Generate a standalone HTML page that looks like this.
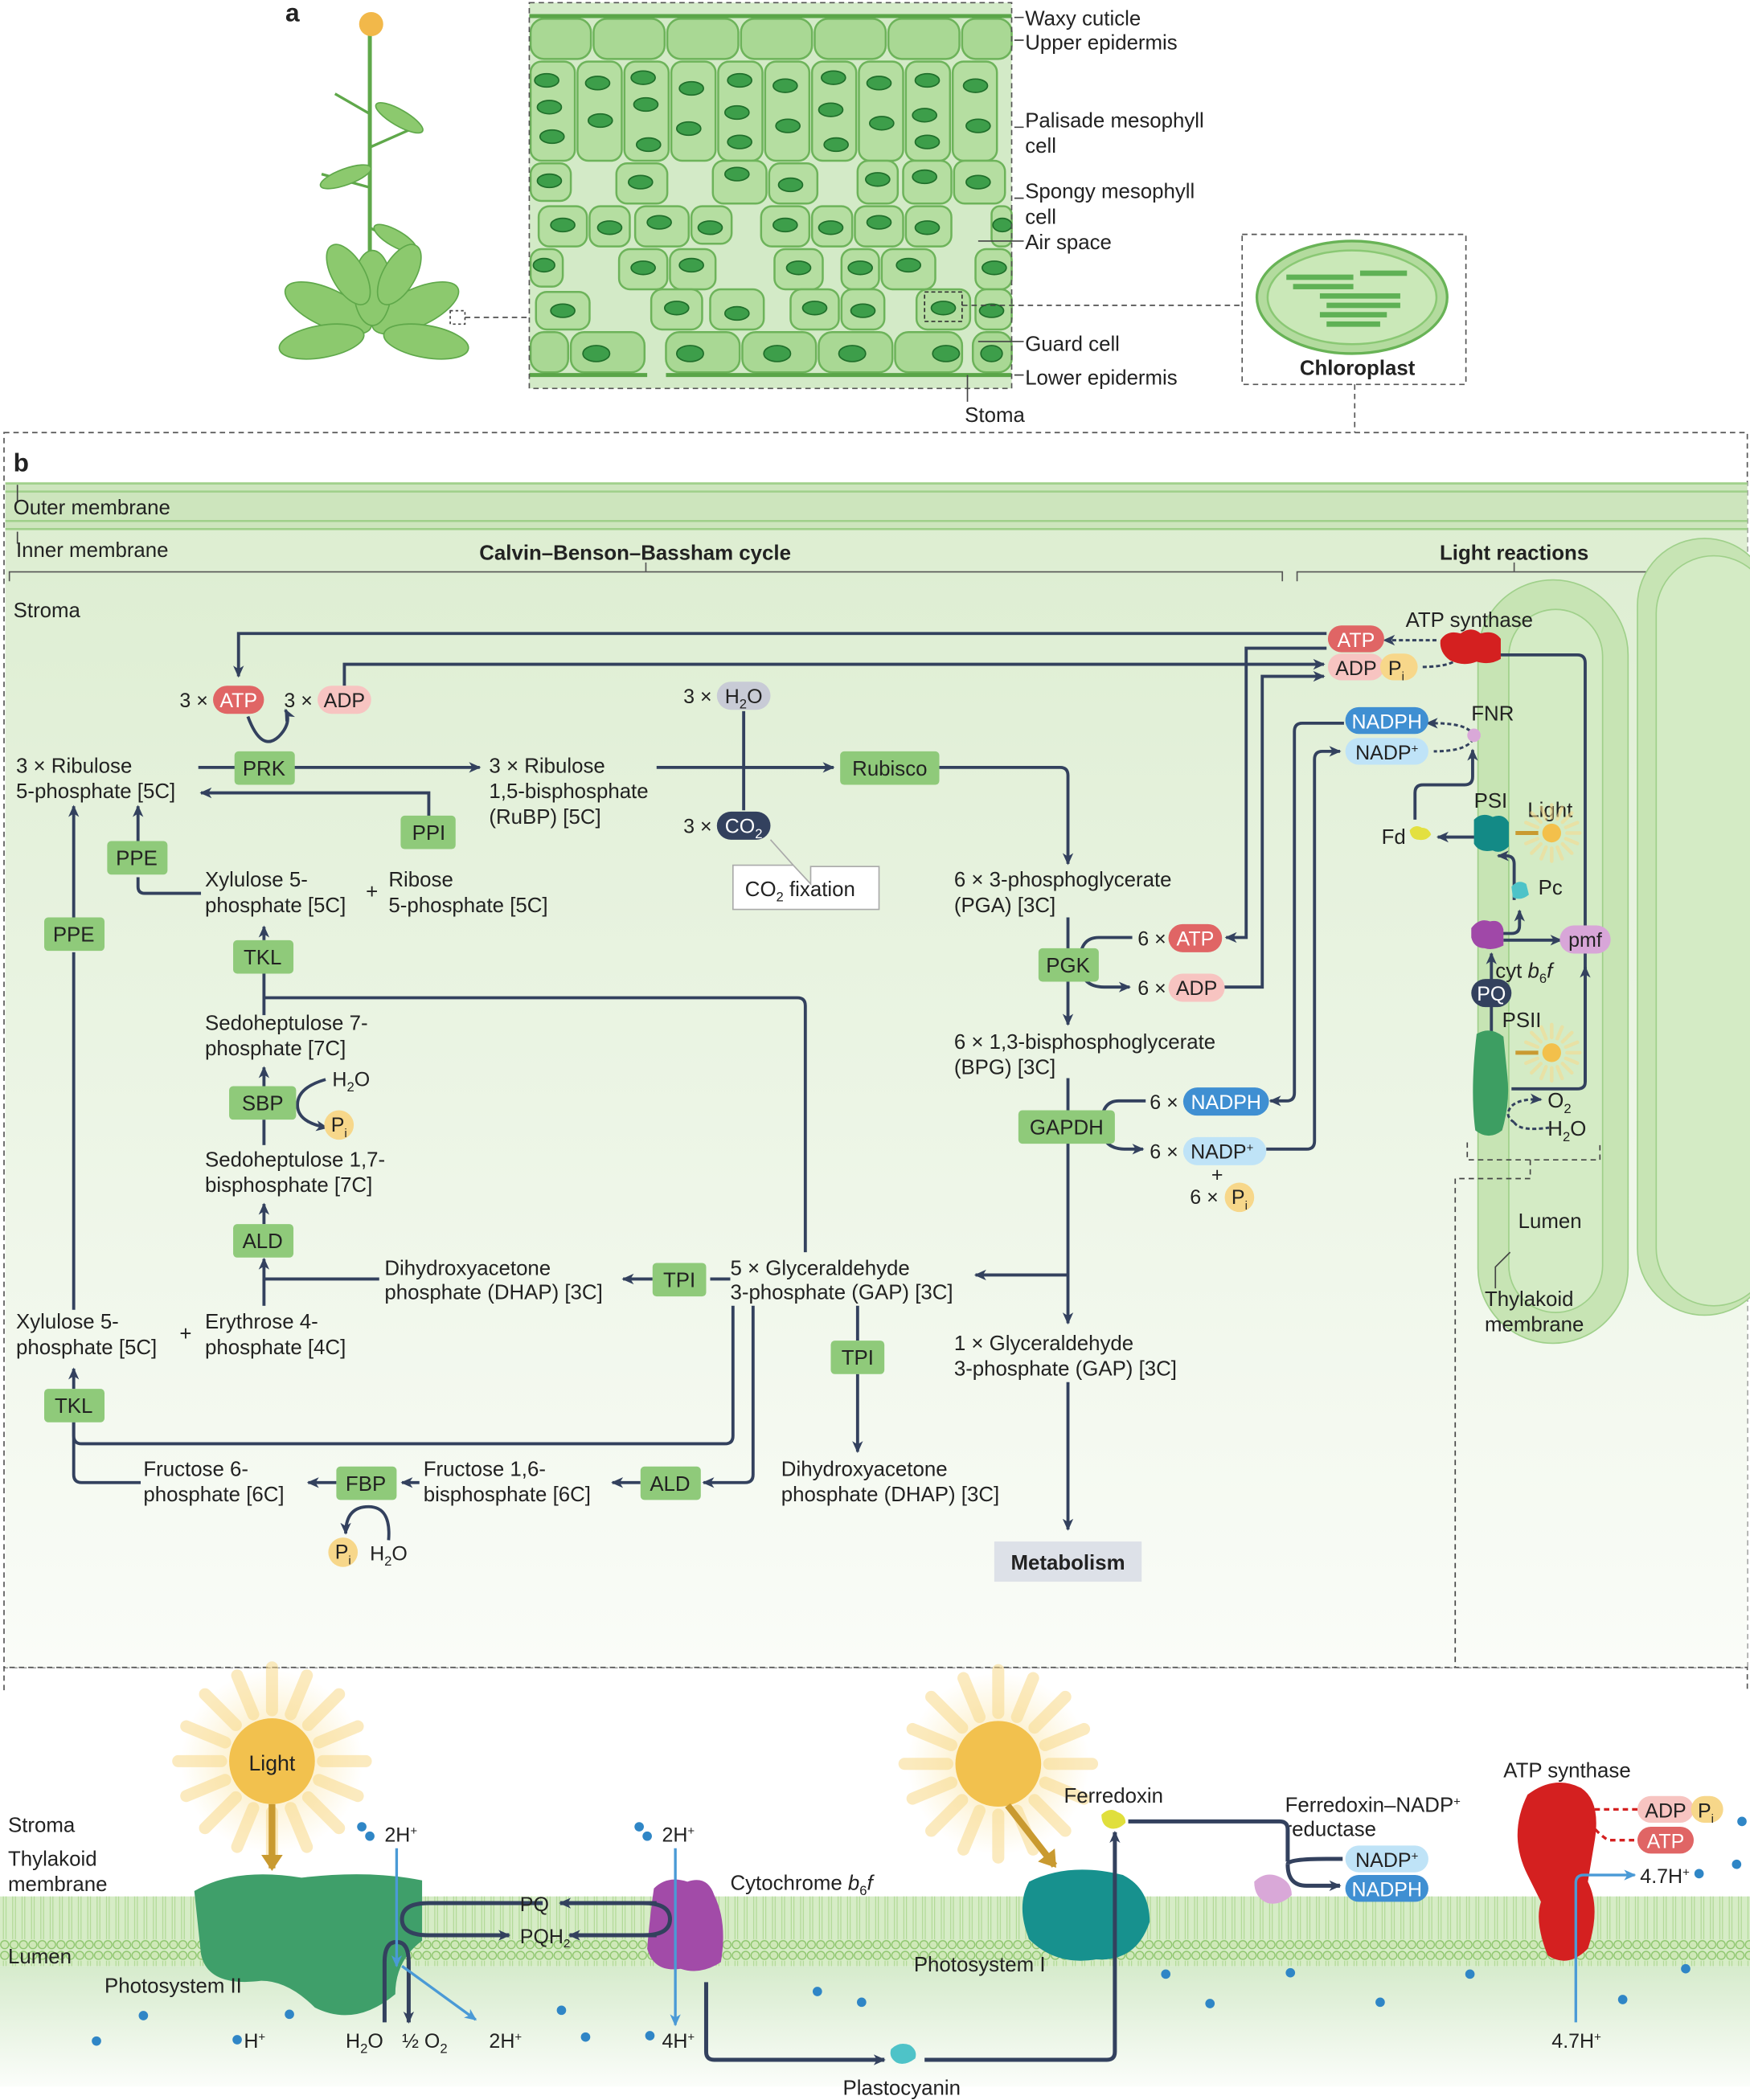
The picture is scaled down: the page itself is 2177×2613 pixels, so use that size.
<!DOCTYPE html>
<html><head><meta charset="utf-8"><style>
html,body{margin:0;padding:0;background:#fff}
svg{display:block}
text{font-family:"Liberation Sans",sans-serif}
</style></head><body>
<svg width="2177" height="2613" viewBox="0 0 1306 1568" preserveAspectRatio="none" xmlns="http://www.w3.org/2000/svg" fill="#222">
<defs>
<marker id="a" markerWidth="10" markerHeight="10" refX="8" refY="5" orient="auto" markerUnits="userSpaceOnUse"><path d="M0,1 L9,5 L0,9 L2.5,5z" fill="#33415e"/></marker>
<marker id="ab" markerWidth="10" markerHeight="10" refX="8" refY="5" orient="auto" markerUnits="userSpaceOnUse"><path d="M0,1 L9,5 L0,9 L2.5,5z" fill="#4a9ad6"/></marker>
<marker id="ao" markerWidth="16" markerHeight="16" refX="10" refY="8" orient="auto" markerUnits="userSpaceOnUse"><path d="M0,0 L12,8 L0,16z" fill="#c99a30"/></marker>
<linearGradient id="bg" x1="0" y1="0" x2="0" y2="1"><stop offset="0" stop-color="#dcedd0"/><stop offset="1" stop-color="#fafcf8"/></linearGradient>
<linearGradient id="lum" x1="0" y1="0" x2="0" y2="1"><stop offset="0" stop-color="#d6ebcc"/><stop offset="1" stop-color="#fbfdfa"/></linearGradient>
<radialGradient id="sun" cx="0.5" cy="0.5" r="0.5"><stop offset="0" stop-color="#f7d26a" stop-opacity="1"/><stop offset="0.5" stop-color="#fae3a0" stop-opacity="0.6"/><stop offset="1" stop-color="#fbe7a8" stop-opacity="0"/></radialGradient>
<pattern id="lip" width="7" height="52" patternUnits="userSpaceOnUse"><circle cx="3.5" cy="4" r="3" fill="#cfe8b8" stroke="#8cc56c" stroke-width="0.8"/><circle cx="3.5" cy="48" r="3" fill="#cfe8b8" stroke="#8cc56c" stroke-width="0.8"/><path d="M2.5,8 v36 M4.5,8 v36" stroke="#a9d58c" stroke-width="0.6"/></pattern>
<g id="rays" stroke="#f8d98a" stroke-width="9" stroke-opacity="0.55" stroke-linecap="round">
<path d="M0,-38 V-70 M0,38 V70 M-38,0 H-70 M38,0 H70 M27,27 L50,50 M-27,-27 L-50,-50 M27,-27 L50,-50 M-27,27 L-50,50 M14,-35 L26,-64 M-14,-35 L-26,-64 M14,35 L26,64 M-14,35 L-26,64 M35,14 L64,26 M35,-14 L64,-26 M-35,14 L-64,26 M-35,-14 L-64,-26"/>
</g>
</defs>

<!-- ===== Panel a ===== -->
<text x="213" y="16" font-size="19" font-weight="bold">a</text>
<g stroke="#5fa84a" fill="#8cc96e">
<path d="M276,25 L276,220" stroke-width="3" fill="none"/>
<path d="M276,140 L240,130 M276,110 L310,95 M276,170 L305,185 M276,85 L250,70" stroke-width="2"/>
<ellipse cx="258" cy="132" rx="20" ry="6" transform="rotate(-20 258 132)"/>
<ellipse cx="298" cy="88" rx="20" ry="6" transform="rotate(30 298 88)"/>
<ellipse cx="295" cy="178" rx="18" ry="6" transform="rotate(30 295 178)"/>
<ellipse cx="245" cy="230" rx="35" ry="14" transform="rotate(25 245 230)"/>
<ellipse cx="310" cy="230" rx="35" ry="14" transform="rotate(-25 310 230)"/>
<ellipse cx="240" cy="255" rx="32" ry="12" transform="rotate(-10 240 255)"/>
<ellipse cx="318" cy="255" rx="32" ry="12" transform="rotate(10 318 255)"/>
<ellipse cx="278" cy="215" rx="14" ry="28"/>
<ellipse cx="260" cy="205" rx="12" ry="25" transform="rotate(-30 260 205)"/>
<ellipse cx="298" cy="205" rx="12" ry="25" transform="rotate(30 298 205)"/>
</g>
<circle cx="277" cy="18" r="9" fill="#f2b84a"/>
<rect x="336" y="232" width="11" height="10" fill="none" stroke="#444" stroke-dasharray="2,2"/>
<path d="M347,237 H395" stroke="#444" stroke-dasharray="4,3"/>
<rect x="395" y="2" width="360" height="288" fill="#d3eac7"/>
<g fill="#a9d894" stroke="#6db35a" stroke-width="1.5">
<rect x="396" y="14" width="45" height="30" rx="10"/><rect x="443" y="14" width="53" height="30" rx="10"/><rect x="498" y="14" width="53" height="30" rx="10"/><rect x="553" y="14" width="53" height="30" rx="10"/><rect x="608" y="14" width="53" height="30" rx="10"/><rect x="663" y="14" width="53" height="30" rx="10"/><rect x="718" y="14" width="37" height="30" rx="10"/>
</g>
<g fill="#b5dea1" stroke="#6db35a" stroke-width="1.5">
<rect x="396" y="46" width="33" height="74" rx="8"/><rect x="431" y="46" width="33" height="74" rx="8"/><rect x="466" y="46" width="33" height="74" rx="8"/><rect x="501" y="46" width="33" height="74" rx="8"/><rect x="536" y="46" width="33" height="74" rx="8"/><rect x="571" y="46" width="33" height="74" rx="8"/><rect x="606" y="46" width="33" height="74" rx="8"/><rect x="641" y="46" width="33" height="74" rx="8"/><rect x="676" y="46" width="33" height="74" rx="8"/><rect x="711" y="46" width="33" height="74" rx="8"/>
<rect x="396" y="122" width="30" height="28" rx="8"/><rect x="460" y="122" width="38" height="30" rx="8"/><rect x="532" y="120" width="40" height="32" rx="8"/><rect x="574" y="122" width="36" height="30" rx="8"/><rect x="640" y="120" width="30" height="32" rx="8"/><rect x="674" y="120" width="36" height="32" rx="8"/><rect x="712" y="120" width="38" height="32" rx="8"/>
<rect x="402" y="154" width="36" height="30" rx="8"/><rect x="440" y="154" width="30" height="30" rx="8"/><rect x="474" y="154" width="40" height="30" rx="8"/><rect x="516" y="154" width="30" height="28" rx="8"/><rect x="568" y="154" width="36" height="30" rx="8"/><rect x="606" y="154" width="30" height="30" rx="8"/><rect x="638" y="154" width="36" height="30" rx="8"/><rect x="676" y="154" width="34" height="30" rx="8"/><rect x="740" y="154" width="15" height="30" rx="6"/>
<rect x="396" y="186" width="24" height="28" rx="8"/><rect x="462" y="186" width="36" height="30" rx="8"/><rect x="500" y="186" width="34" height="30" rx="8"/><rect x="578" y="186" width="36" height="30" rx="8"/><rect x="628" y="186" width="28" height="30" rx="8"/><rect x="658" y="186" width="40" height="30" rx="8"/><rect x="728" y="186" width="27" height="30" rx="8"/>
<rect x="400" y="218" width="40" height="28" rx="8"/><rect x="486" y="216" width="38" height="30" rx="8"/><rect x="530" y="216" width="40" height="30" rx="8"/><rect x="590" y="216" width="36" height="30" rx="8"/><rect x="628" y="216" width="32" height="30" rx="8"/><rect x="684" y="216" width="40" height="30" rx="8"/><rect x="728" y="216" width="27" height="30" rx="8"/>
</g>
<g fill="#a9d894" stroke="#6db35a" stroke-width="1.5">
<rect x="396" y="248" width="28" height="30" rx="10"/><rect x="426" y="248" width="55" height="30" rx="10"/><rect x="497" y="248" width="55" height="30" rx="10"/><rect x="554" y="248" width="55" height="30" rx="10"/><rect x="611" y="248" width="55" height="30" rx="10"/><rect x="668" y="248" width="50" height="30" rx="10"/><rect x="726" y="248" width="29" height="30" rx="10"/>
</g>
<path d="M395,12 H755 M395,280 H483 M497,280 H755" stroke="#5aa548" stroke-width="3"/>
<g fill="#3d9e4a" stroke="#1f6e2a" stroke-width="1">
<ellipse cx="408" cy="60" rx="9" ry="5"/><ellipse cx="410" cy="80" rx="9" ry="5"/><ellipse cx="412" cy="102" rx="9" ry="5"/><ellipse cx="446" cy="62" rx="9" ry="5"/><ellipse cx="448" cy="90" rx="9" ry="5"/><ellipse cx="480" cy="58" rx="9" ry="5"/><ellipse cx="482" cy="78" rx="9" ry="5"/><ellipse cx="484" cy="108" rx="9" ry="5"/><ellipse cx="516" cy="66" rx="9" ry="5"/><ellipse cx="514" cy="96" rx="9" ry="5"/><ellipse cx="552" cy="60" rx="9" ry="5"/><ellipse cx="550" cy="84" rx="9" ry="5"/><ellipse cx="552" cy="106" rx="9" ry="5"/><ellipse cx="586" cy="64" rx="9" ry="5"/><ellipse cx="588" cy="94" rx="9" ry="5"/><ellipse cx="622" cy="58" rx="9" ry="5"/><ellipse cx="620" cy="82" rx="9" ry="5"/><ellipse cx="624" cy="108" rx="9" ry="5"/><ellipse cx="656" cy="62" rx="9" ry="5"/><ellipse cx="658" cy="92" rx="9" ry="5"/><ellipse cx="692" cy="60" rx="9" ry="5"/><ellipse cx="690" cy="86" rx="9" ry="5"/><ellipse cx="692" cy="106" rx="9" ry="5"/><ellipse cx="728" cy="64" rx="9" ry="5"/><ellipse cx="730" cy="94" rx="9" ry="5"/>
<ellipse cx="410" cy="135" rx="9" ry="5"/><ellipse cx="478" cy="136" rx="9" ry="5"/><ellipse cx="550" cy="130" rx="9" ry="5"/><ellipse cx="590" cy="138" rx="9" ry="5"/><ellipse cx="655" cy="134" rx="9" ry="5"/><ellipse cx="690" cy="132" rx="9" ry="5"/><ellipse cx="730" cy="136" rx="9" ry="5"/>
<ellipse cx="420" cy="168" rx="9" ry="5"/><ellipse cx="455" cy="170" rx="9" ry="5"/><ellipse cx="492" cy="166" rx="9" ry="5"/><ellipse cx="530" cy="170" rx="9" ry="5"/><ellipse cx="586" cy="168" rx="9" ry="5"/><ellipse cx="620" cy="170" rx="9" ry="5"/><ellipse cx="656" cy="166" rx="9" ry="5"/><ellipse cx="692" cy="170" rx="9" ry="5"/><ellipse cx="748" cy="168" rx="7" ry="5"/>
<ellipse cx="406" cy="198" rx="8" ry="5"/><ellipse cx="480" cy="200" rx="9" ry="5"/><ellipse cx="516" cy="198" rx="9" ry="5"/><ellipse cx="596" cy="200" rx="9" ry="5"/><ellipse cx="642" cy="200" rx="9" ry="5"/><ellipse cx="678" cy="198" rx="9" ry="5"/><ellipse cx="742" cy="200" rx="9" ry="5"/>
<ellipse cx="420" cy="232" rx="9" ry="5"/><ellipse cx="505" cy="230" rx="9" ry="5"/><ellipse cx="550" cy="234" rx="9" ry="5"/><ellipse cx="608" cy="230" rx="9" ry="5"/><ellipse cx="644" cy="232" rx="9" ry="5"/><ellipse cx="704" cy="230" rx="9" ry="5"/><ellipse cx="740" cy="232" rx="9" ry="5"/>
<ellipse cx="445" cy="264" rx="10" ry="6"/><ellipse cx="515" cy="264" rx="10" ry="6"/><ellipse cx="580" cy="264" rx="10" ry="6"/><ellipse cx="636" cy="264" rx="10" ry="6"/><ellipse cx="706" cy="264" rx="10" ry="6"/><ellipse cx="740" cy="264" rx="8" ry="6"/>
</g>
<rect x="395" y="2" width="360" height="288" fill="none" stroke="#555" stroke-dasharray="4,3"/>
<rect x="690" y="218" width="28" height="22" fill="none" stroke="#333" stroke-dasharray="3,2"/>
<path d="M718,228 H927" stroke="#444" stroke-dasharray="4,3"/>
<g font-size="15.5">
<path d="M757,13 H764 M757,30 H764 M757,95 H764 M757,148 H764 M730,180 H764 M730,255 H764 M757,280 H764 M722,280 V300" stroke="#444"/>
<text x="765" y="19">Waxy cuticle</text><text x="765" y="37">Upper epidermis</text>
<text x="765" y="95">Palisade mesophyll</text><text x="765" y="114">cell</text>
<text x="765" y="148">Spongy mesophyll</text><text x="765" y="167">cell</text>
<text x="765" y="186">Air space</text><text x="765" y="262">Guard cell</text><text x="765" y="287">Lower epidermis</text>
<text x="720" y="315">Stoma</text>
</g>
<rect x="927" y="175" width="167" height="112" fill="none" stroke="#555" stroke-dasharray="4,3"/>
<ellipse cx="1009" cy="222" rx="71" ry="42" fill="#b3db9e" stroke="#68b356" stroke-width="2"/>
<ellipse cx="1009" cy="222" rx="63" ry="35" fill="#cae8b8" stroke="#8ac874" stroke-width="1.5"/>
<g fill="#5fb155"><rect x="960" y="205" width="50" height="4"/><rect x="965" y="212" width="45" height="4"/><rect x="985" y="219" width="60" height="4"/><rect x="990" y="226" width="55" height="4"/><rect x="985" y="233" width="50" height="4"/><rect x="1015" y="202" width="35" height="4"/><rect x="990" y="240" width="40" height="4"/></g>
<text x="1013" y="280" font-size="15.5" font-weight="bold" text-anchor="middle">Chloroplast</text>
<path d="M1011,287 V323" stroke="#555" stroke-dasharray="4,3"/>

<!-- ===== Panel b ===== -->
<rect x="3" y="323" width="1301" height="922" fill="none" stroke="#555" stroke-dasharray="4,3"/>
<text x="10" y="352" font-size="19" font-weight="bold">b</text>
<rect x="4" y="360" width="1300" height="885" fill="url(#bg)"/>
<rect x="4" y="360" width="1300" height="36" fill="#cde5bd"/>
<path d="M4,361 H1304 M4,367 H1304 M4,389 H1304 M4,395 H1304" stroke="#9fd08a" stroke-width="1.5"/>
<text x="10" y="384" font-size="15.5">Outer membrane</text>
<path d="M13,362 V374" stroke="#444"/>
<text x="12" y="416" font-size="15.5">Inner membrane</text>
<path d="M13,397 V406" stroke="#444"/>
<text x="10" y="461" font-size="15.5">Stroma</text>
<text x="474" y="418" font-size="15.5" font-weight="bold" text-anchor="middle">Calvin–Benson–Bassham cycle</text>
<path d="M7,434 V427 H957 V434 M482,427 V420" stroke="#555" fill="none"/>
<text x="1130" y="418" font-size="15.5" font-weight="bold" text-anchor="middle">Light reactions</text>
<path d="M968,434 V427 H1296 V434 M1130,427 V420" stroke="#555" fill="none"/>

<rect x="1222" y="402" width="100" height="580" rx="50" fill="#c7e4b4" stroke="#9fd08a"/>
<rect x="1236" y="415" width="86" height="560" rx="43" fill="#d4ebc5" stroke="#9fd08a"/>
<rect x="1103" y="433" width="112" height="570" rx="56" fill="#c7e4b4" stroke="#9fd08a"/>
<rect x="1126" y="455" width="70" height="525" rx="35" fill="#d4ebc5" stroke="#9fd08a"/>
<text x="1133" y="917" font-size="15.5">Lumen</text>
<path d="M1127,935 L1116,946 V962" stroke="#444" fill="none"/>
<text x="1108" y="975" font-size="15.5">Thylakoid</text><text x="1108" y="994" font-size="15.5">membrane</text>
<path d="M1095,853 V866 H1194 V853 M1142,866 V880 H1086 V1245" stroke="#444" stroke-dasharray="4,3" fill="none"/>

<g stroke="#33415e" stroke-width="2.3" fill="none">
<path d="M990,473 H178 V505" marker-end="url(#a)"/>
<path d="M257,512 V496 H988" marker-end="url(#a)"/>
<path d="M990,484 H930 V700 L915,700" marker-end="url(#a)"/>
<path d="M912,737 H942 V505 H988" marker-end="url(#a)"/>
<path d="M1003,540 H972 Q966,540 966,546 V816 Q966,822 960,822 H948" marker-end="url(#a)"/>
<path d="M945,858 H975 Q981,858 981,852 V567 Q981,561 987,561 H1000" marker-end="url(#a)"/>
<path d="M148,573 H358" marker-end="url(#a)"/>
<path d="M185,535 Q195,562 208,550 Q218,540 213,530" marker-end="url(#a)"/>
<path d="M320,610 V592 H150" marker-end="url(#a)"/>
<path d="M555,531 V605 M490,573 H622" />
<path d="M555,573 H622" marker-end="url(#a)"/>
<path d="M701,573 H791 Q797,573 797,579 V645" marker-end="url(#a)"/>
<path d="M797,685 V765" marker-end="url(#a)"/>
<path d="M845,700 H820 Q806,700 806,718 Q806,737 824,737 H843" marker-end="url(#a)"/>
<path d="M797,805 V988" marker-end="url(#a)"/>
<path d="M797,952 H728" marker-end="url(#a)"/>
<path d="M855,822 H835 Q822,822 822,840 Q822,858 840,858 H853" marker-end="url(#a)"/>
<path d="M797,1032 V1142" marker-end="url(#a)"/>
<path d="M545,955 H530 M487,955 H465" marker-end="url(#a)"/>
<path d="M283,955 H197 V940" marker-end="url(#a)"/>
<path d="M197,955 V975"/>
<path d="M197,914 V899" marker-end="url(#a)"/>
<path d="M197,855 V836"/>
<path d="M197,811 V797" marker-end="url(#a)"/>
<path d="M243,806 Q222,812 222,825 Q222,838 244,842" marker-end="url(#a)"/>
<path d="M197,758 V727"/>
<path d="M197,702 V692" marker-end="url(#a)"/>
<path d="M601,935 V751 Q601,745 595,745 H197"/>
<path d="M150,667 H108 Q103,667 103,662 V655"/>
<path d="M103,628 V602" marker-end="url(#a)"/>
<path d="M55,978 V711"/>
<path d="M55,685 V602" marker-end="url(#a)"/>
<path d="M55,1062 V1072 Q55,1078 61,1078 H541 Q547,1078 547,1072 V975"/>
<path d="M55,1037 V1022" marker-end="url(#a)"/>
<path d="M105,1107 H61 Q55,1107 55,1101 V1062"/>
<path d="M251,1107 H230" marker-end="url(#a)"/>
<path d="M313,1107 H300" marker-end="url(#a)"/>
<path d="M478,1107 H457" marker-end="url(#a)"/>
<path d="M562,975 V1101 Q562,1107 556,1107 H525" marker-end="url(#a)"/>
<path d="M640,975 V1001 M640,1026 V1084" marker-end="url(#a)"/>
<path d="M290,1150 Q292,1125 275,1125 Q258,1125 258,1145" marker-end="url(#a)"/>
<path d="M1183,808 V495 Q1183,489 1177,489 H1098" marker-end="url(#a)"/>
<path d="M1183,808 Q1183,813 1177,813 H1128"/>
<path d="M1113,625 H1073" marker-end="url(#a)"/>
<path d="M1056,612 V592 Q1056,586 1062,586 H1093 Q1099,586 1099,580 V560" marker-end="url(#a)"/>
<path d="M1130,672 V645 Q1130,639 1124,639 H1118" marker-end="url(#a)"/>
<path d="M1120,697 H1128 Q1134,697 1134,691 V680" marker-end="url(#a)"/>
<path d="M1122,702 H1165" marker-end="url(#a)"/>
<path d="M1183,808 V722" marker-end="url(#a)"/>
<path d="M1113,775 V712" marker-end="url(#a)"/>
</g>
<g stroke="#33415e" stroke-width="1.8" fill="none" stroke-dasharray="3,2">
<path d="M1077,482 Q1088,480 1090,488 Q1088,498 1060,498" />
<path d="M1072,478 H1033" marker-end="url(#a)"/>
<path d="M1072,540 H1065" marker-end="url(#a)"/>
<path d="M1070,540 Q1097,540 1100,550 Q1097,561 1070,561"/>
<path d="M1130,838 Q1122,833 1128,826 Q1134,820 1150,821" marker-end="url(#a)"/>
<path d="M1130,838 Q1134,845 1156,842"/>
</g>

<g font-size="15">
<rect x="159" y="512" width="38" height="21" rx="10.5" fill="#e06565"/><text x="178" y="528" text-anchor="middle" fill="#fff">ATP</text>
<text x="134" y="528">3 ×</text><text x="212" y="528">3 ×</text>
<rect x="237" y="512" width="40" height="21" rx="10.5" fill="#f7c4c1"/><text x="257" y="528" text-anchor="middle">ADP</text>
<text x="510" y="525">3 ×</text>
<rect x="535" y="509" width="40" height="21" rx="10.5" fill="#c8cbd6"/><text x="555" y="525" text-anchor="middle">H<tspan font-size="10" dy="4">2</tspan><tspan dy="-4">O</tspan></text>
<text x="510" y="622">3 ×</text>
<rect x="535" y="606" width="40" height="21" rx="10.5" fill="#33415e"/><text x="555" y="622" text-anchor="middle" fill="#fff">CO<tspan font-size="10" dy="4">2</tspan></text>
<rect x="991" y="467" width="42" height="20" rx="10" fill="#e06565"/><text x="1012" y="483" text-anchor="middle" fill="#fff">ATP</text>
<rect x="991" y="488" width="42" height="20" rx="10" fill="#f7c4c1"/><text x="1012" y="504" text-anchor="middle">ADP</text>
<rect x="1030" y="488" width="28" height="20" rx="10" fill="#f7d78a"/><text x="1036" y="504">P<tspan font-size="9" dy="4">i</tspan></text>
<rect x="1004" y="528" width="62" height="20" rx="10" fill="#3f8fd2"/><text x="1035" y="544" text-anchor="middle" fill="#fff">NADPH</text>
<rect x="1004" y="551" width="62" height="20" rx="10" fill="#bfe3f7"/><text x="1035" y="567" text-anchor="middle">NADP<tspan font-size="9" dy="-5">+</tspan></text>
<text x="849" y="706">6 ×</text>
<rect x="872" y="690" width="40" height="21" rx="10.5" fill="#e06565"/><text x="892" y="706" text-anchor="middle" fill="#fff">ATP</text>
<text x="849" y="743">6 ×</text>
<rect x="872" y="727" width="42" height="21" rx="10.5" fill="#f7c4c1"/><text x="893" y="743" text-anchor="middle">ADP</text>
<text x="858" y="828">6 ×</text>
<rect x="883" y="812" width="64" height="21" rx="10.5" fill="#3f8fd2"/><text x="915" y="828" text-anchor="middle" fill="#fff">NADPH</text>
<text x="858" y="865">6 ×</text>
<rect x="883" y="849" width="62" height="21" rx="10.5" fill="#bfe3f7"/><text x="912" y="865" text-anchor="middle">NADP<tspan font-size="9" dy="-5">+</tspan></text>
<text x="904" y="882">+</text>
<text x="888" y="899">6 ×</text>
<circle cx="925" cy="894" r="11" fill="#f7d78a"/><text x="919" y="899">P<tspan font-size="9" dy="4">i</tspan></text>
<circle cx="253" cy="840" r="11" fill="#f7d78a"/><text x="247" y="845">P<tspan font-size="9" dy="4">i</tspan></text>
<text x="248" y="811">H<tspan font-size="10" dy="4">2</tspan><tspan dy="-4">O</tspan></text>
<circle cx="256" cy="1159" r="11" fill="#f7d78a"/><text x="250" y="1164">P<tspan font-size="9" dy="4">i</tspan></text>
<text x="276" y="1165">H<tspan font-size="10" dy="4">2</tspan><tspan dy="-4">O</tspan></text>
<rect x="1164" y="691" width="38" height="21" rx="10.5" fill="#d8a6d8"/><text x="1183" y="707" text-anchor="middle">pmf</text>
<rect x="1098" y="731" width="30" height="21" rx="10.5" fill="#33415e"/><text x="1113" y="747" text-anchor="middle" fill="#fff">PQ</text>
</g>

<g fill="#8fca7a">
<rect x="175" y="561" width="45" height="25" rx="3"/><rect x="627" y="561" width="74" height="25" rx="3"/><rect x="299" y="609" width="41" height="25" rx="3"/><rect x="80" y="628" width="45" height="25" rx="3"/><rect x="33" y="685" width="45" height="25" rx="3"/><rect x="775" y="708" width="45" height="25" rx="3"/><rect x="174" y="702" width="45" height="25" rx="3"/><rect x="171" y="811" width="50" height="25" rx="3"/><rect x="760" y="829" width="72" height="25" rx="3"/><rect x="174" y="914" width="45" height="25" rx="3"/><rect x="487" y="943" width="40" height="25" rx="3"/><rect x="620" y="1001" width="40" height="25" rx="3"/><rect x="33" y="1037" width="45" height="25" rx="3"/><rect x="251" y="1095" width="45" height="25" rx="3"/><rect x="478" y="1095" width="45" height="25" rx="3"/>
</g>
<g font-size="15.5" text-anchor="middle">
<text x="197" y="579">PRK</text><text x="664" y="579">Rubisco</text><text x="320" y="627">PPI</text><text x="102" y="646">PPE</text><text x="55" y="703">PPE</text><text x="797" y="726">PGK</text><text x="196" y="720">TKL</text><text x="196" y="829">SBP</text><text x="796" y="847">GAPDH</text><text x="196" y="932">ALD</text><text x="507" y="961">TPI</text><text x="640" y="1019">TPI</text><text x="55" y="1055">TKL</text><text x="273" y="1113">FBP</text><text x="500" y="1113">ALD</text>
</g>
<rect x="742" y="1151" width="110" height="30" fill="#dde1e8"/>
<text x="797" y="1172" font-size="15.5" font-weight="bold" text-anchor="middle">Metabolism</text>
<path d="M547,646 H592 L605,660 V647 H656 V679 H547Z" fill="#fff" stroke="#aaa"/>
<path d="M575,627 L592,646" stroke="#aaa"/>
<text x="556" y="669" font-size="15.5">CO<tspan font-size="10" dy="4">2</tspan><tspan dy="-4"> fixation</tspan></text>

<g font-size="15.5">
<text x="12" y="577">3 × Ribulose</text><text x="12" y="596">5-phosphate [5C]</text>
<text x="365" y="577">3 × Ribulose</text><text x="365" y="596">1,5-bisphosphate</text><text x="365" y="615">(RuBP) [5C]</text>
<text x="153" y="662">Xylulose 5-</text><text x="153" y="681">phosphate [5C]</text><text x="273" y="671">+</text>
<text x="290" y="662">Ribose</text><text x="290" y="681">5-phosphate [5C]</text>
<text x="712" y="662">6 × 3-phosphoglycerate</text><text x="712" y="681">(PGA) [3C]</text>
<text x="153" y="769">Sedoheptulose 7-</text><text x="153" y="788">phosphate [7C]</text>
<text x="712" y="783">6 × 1,3-bisphosphoglycerate</text><text x="712" y="802">(BPG) [3C]</text>
<text x="153" y="871">Sedoheptulose 1,7-</text><text x="153" y="890">bisphosphate [7C]</text>
<text x="287" y="952">Dihydroxyacetone</text><text x="287" y="970">phosphate (DHAP) [3C]</text>
<text x="545" y="952">5 × Glyceraldehyde</text><text x="545" y="970">3-phosphate (GAP) [3C]</text>
<text x="12" y="992">Xylulose 5-</text><text x="12" y="1011">phosphate [5C]</text><text x="134" y="1001">+</text>
<text x="153" y="992">Erythrose 4-</text><text x="153" y="1011">phosphate [4C]</text>
<text x="712" y="1008">1 × Glyceraldehyde</text><text x="712" y="1027">3-phosphate (GAP) [3C]</text>
<text x="107" y="1102">Fructose 6-</text><text x="107" y="1121">phosphate [6C]</text>
<text x="316" y="1102">Fructose 1,6-</text><text x="316" y="1121">bisphosphate [6C]</text>
<text x="583" y="1102">Dihydroxyacetone</text><text x="583" y="1121">phosphate (DHAP) [3C]</text>
<text x="1049" y="468">ATP synthase</text><text x="1098" y="538">FNR</text>
<text x="1100" y="603">PSI</text><text x="1140" y="610">Light</text><text x="1031" y="630">Fd</text><text x="1148" y="668">Pc</text>
<text x="1116" y="730">cyt <tspan font-style="italic">b</tspan><tspan font-size="10" dy="4">6</tspan><tspan dy="-4" font-style="italic">f</tspan></text>
<text x="1121" y="767">PSII</text>
<text x="1155" y="827">O<tspan font-size="10" dy="4">2</tspan></text><text x="1155" y="848">H<tspan font-size="10" dy="4">2</tspan><tspan dy="-4">O</tspan></text>
</g>
<g>
<path d="M1075,478 q5,-8 15,-5 q8,-6 15,0 q10,-3 15,4 l0,15 q-8,5 -18,2 q-10,4 -20,-1 q-8,-6 -7,-15z" fill="#d42020"/>
<circle cx="1100" cy="549" r="5" fill="#d9a8d8"/>
<path d="M1100,612 q6,-6 14,-2 q8,-3 12,4 l0,18 q-6,6 -12,3 q-10,2 -14,-5z" fill="#138a86"/>
<path d="M1052,620 q4,-5 9,-2 q5,0 7,5 q-3,5 -9,4 q-6,0 -7,-7z" fill="#e3e040"/>
<path d="M1128,662 q5,-6 11,-2 l2,8 q-6,5 -12,2z" fill="#4ec3c8"/>
<path d="M1098,693 q6,-8 14,-5 q8,-2 10,6 l0,12 q-8,4 -14,2 q-8,0 -10,-8z" fill="#a048a8"/>
<path d="M1102,772 q10,-6 20,2 l3,30 q2,20 -4,40 q-10,8 -20,0 q-4,-30 1,-72z" fill="#3d9e62"/>
<use href="#rays" transform="translate(1158,622) scale(0.3)"/>
<use href="#rays" transform="translate(1158,786) scale(0.3)"/>
<circle cx="1158" cy="622" r="7" fill="#f3c04b"/>
<circle cx="1158" cy="786" r="7" fill="#f3c04b"/>
<path d="M1148,622 H1131 M1148,786 H1131" stroke="#c99a30" stroke-width="3"/>
</g>

<!-- ===== Bottom panel ===== -->
<path d="M3,1262 V1245 H1304 V1262" stroke="#555" stroke-dasharray="4,3" fill="none"/>
<rect x="0" y="1468" width="1306" height="90" fill="url(#lum)"/>
<rect x="0" y="1416" width="1306" height="52" fill="#d6ecc6"/>
<rect x="0" y="1416" width="1306" height="52" fill="url(#lip)"/>
<text x="6" y="1368" font-size="15.5">Stroma</text>
<text x="6" y="1393" font-size="15.5">Thylakoid</text><text x="6" y="1412" font-size="15.5">membrane</text>
<text x="6" y="1466" font-size="15.5">Lumen</text>
<circle cx="203" cy="1315" r="68" fill="url(#sun)" opacity="0.7"/>
<use href="#rays" transform="translate(203,1315)"/>
<circle cx="203" cy="1315" r="32" fill="#f2c14e"/>
<text x="203" y="1322" font-size="16" text-anchor="middle">Light</text>
<path d="M203,1347 V1395" stroke="#c99a30" stroke-width="5" marker-end="url(#ao)"/>
<circle cx="745" cy="1317" r="68" fill="url(#sun)" opacity="0.7"/>
<use href="#rays" transform="translate(745,1317)"/>
<circle cx="745" cy="1317" r="32" fill="#f2c14e"/>
<path d="M752,1348 L787,1393" stroke="#c99a30" stroke-width="5" marker-end="url(#ao)"/>
<path d="M145,1412 q30,-18 80,-10 q50,-6 90,2 l0,45 q-20,15 -20,40 q-30,25 -60,10 q-20,-20 -40,-20 q-40,5 -45,-20z" fill="#3f9f6a"/>
<text x="78" y="1488" font-size="15.5">Photosystem II</text>
<path d="M488,1410 q10,-10 25,-5 q15,-5 20,10 q10,20 5,50 q-15,10 -30,5 q-20,3 -25,-15 q2,-25 5,-45z" fill="#a24ba8"/>
<text x="545" y="1411" font-size="15.5">Cytochrome <tspan font-style="italic">b</tspan><tspan font-size="10" dy="4">6</tspan><tspan dy="-4" font-style="italic">f</tspan></text>
<path d="M768,1405 q30,-15 70,-5 q20,10 20,35 q-10,30 -40,28 q-30,5 -50,-15 q-10,-25 0,-43z" fill="#17918e"/>
<text x="682" y="1472" font-size="15.5">Photosystem I</text>
<path d="M822,1355 q6,-6 12,-2 q6,2 6,8 q-6,6 -12,4 q-6,-2 -6,-10z" fill="#e0df3c"/>
<text x="794" y="1346" font-size="15.5">Ferredoxin</text>
<path d="M936,1405 q8,-8 18,-4 q10,4 10,14 q-8,8 -18,6 q-10,-4 -10,-16z" fill="#d9a8d8"/>
<text x="959" y="1353" font-size="15.5">Ferredoxin–NADP<tspan font-size="9" dy="-5">+</tspan></text>
<text x="959" y="1371" font-size="15.5">reductase</text>
<path d="M665,1530 q6,-6 14,-3 q6,4 4,10 q-8,6 -14,3 q-6,-4 -4,-10z" fill="#4ec3c8"/>
<text x="629" y="1564" font-size="15.5">Plastocyanin</text>
<path d="M1140,1340 q20,-15 40,-5 q15,10 10,40 l-5,30 q10,20 0,50 q-15,15 -30,5 q-10,-25 -5,-40 l-10,-20 q-15,-30 0,-60z" fill="#d42020"/>
<text x="1122" y="1327" font-size="15.5">ATP synthase</text>
<g font-size="15">
<rect x="1222" y="1341" width="42" height="20" rx="10" fill="#f7c4c1"/><text x="1243" y="1357" text-anchor="middle">ADP</text>
<rect x="1262" y="1341" width="24" height="20" rx="10" fill="#f7d78a"/><text x="1267" y="1357">P<tspan font-size="9" dy="4">i</tspan></text>
<rect x="1222" y="1364" width="42" height="20" rx="10" fill="#e06565"/><text x="1243" y="1380" text-anchor="middle" fill="#fff">ATP</text>
<rect x="1004" y="1378" width="62" height="20" rx="10" fill="#bfe3f7"/><text x="1035" y="1394" text-anchor="middle">NADP<tspan font-size="9" dy="-5">+</tspan></text>
<rect x="1004" y="1400" width="62" height="20" rx="10" fill="#3f8fd2"/><text x="1035" y="1416" text-anchor="middle" fill="#fff">NADPH</text>
</g>
<path d="M1222,1351 H1190 Q1180,1360 1200,1374 H1220" stroke="#d42020" stroke-width="2" stroke-dasharray="4,3" fill="none"/>
<g stroke="#33415e" stroke-width="3" fill="none">
<path d="M405,1421 H320 Q300,1421 300,1433 Q300,1445 320,1445 H380" marker-end="url(#a)"/>
<path d="M490,1421 H418" marker-end="url(#a)"/>
<path d="M490,1445 H425" marker-end="url(#a)"/>
<path d="M480,1421 Q500,1421 500,1433 Q500,1445 480,1445"/>
<path d="M287,1510 V1465 Q287,1450 296,1450 Q305,1450 305,1465 V1510" marker-end="url(#a)"/>
<path d="M527,1480 V1532 Q527,1538 533,1538 H660" marker-end="url(#a)"/>
<path d="M690,1538 H826 Q832,1538 832,1532 V1368" marker-end="url(#a)"/>
<path d="M842,1360 H955 Q961,1360 961,1366 V1390"/>
<path d="M961,1392 Q961,1408 975,1408 H1000" marker-end="url(#a)"/>
<path d="M961,1392 Q961,1388 990,1388 H1002"/>
</g>
<g stroke="#4a9ad6" stroke-width="2" fill="none">
<path d="M296,1380 V1468" marker-end="url(#ab)"/>
<path d="M300,1468 L355,1508" marker-end="url(#ab)"/>
<path d="M504,1380 V1512" marker-end="url(#ab)"/>
<path d="M1176,1510 V1406 Q1176,1400 1182,1400 H1220" marker-end="url(#ab)"/>
</g>
<g font-size="15">
<text x="287" y="1375">2H<tspan font-size="9" dy="-5">+</tspan></text>
<text x="494" y="1375">2H<tspan font-size="9" dy="-5">+</tspan></text>
<text x="388" y="1427">PQ</text><text x="388" y="1451">PQH<tspan font-size="9" dy="3">2</tspan></text>
<text x="182" y="1529">H<tspan font-size="9" dy="-5">+</tspan></text>
<text x="258" y="1529">H<tspan font-size="10" dy="4">2</tspan><tspan dy="-4">O</tspan></text>
<text x="300" y="1529">½ O<tspan font-size="10" dy="4">2</tspan></text>
<text x="365" y="1529">2H<tspan font-size="9" dy="-5">+</tspan></text>
<text x="494" y="1529">4H<tspan font-size="9" dy="-5">+</tspan></text>
<text x="1224" y="1406">4.7H<tspan font-size="9" dy="-5">+</tspan></text>
<text x="1158" y="1529">4.7H<tspan font-size="9" dy="-5">+</tspan></text>
</g>
<g fill="#2f86c6">
<circle cx="270" cy="1364" r="3.5"/><circle cx="276" cy="1371" r="3.5"/><circle cx="477" cy="1364" r="3.5"/><circle cx="483" cy="1371" r="3.5"/>
<circle cx="72" cy="1524" r="3.5"/><circle cx="107" cy="1505" r="3.5"/><circle cx="177" cy="1523" r="3.5"/><circle cx="216" cy="1504" r="3.5"/><circle cx="437" cy="1521" r="3.5"/><circle cx="485" cy="1520" r="3.5"/>
<circle cx="419" cy="1501" r="3.5"/><circle cx="610" cy="1487" r="3.5"/><circle cx="643" cy="1495" r="3.5"/><circle cx="870" cy="1474" r="3.5"/><circle cx="903" cy="1496" r="3.5"/><circle cx="963" cy="1473" r="3.5"/><circle cx="1030" cy="1495" r="3.5"/><circle cx="1097" cy="1474" r="3.5"/><circle cx="1211" cy="1493" r="3.5"/><circle cx="1258" cy="1470" r="3.5"/>
<circle cx="1296" cy="1392" r="3.5"/><circle cx="1268" cy="1399" r="3.5"/><circle cx="1300" cy="1360" r="3.5"/>
</g>
</svg>
</body></html>
